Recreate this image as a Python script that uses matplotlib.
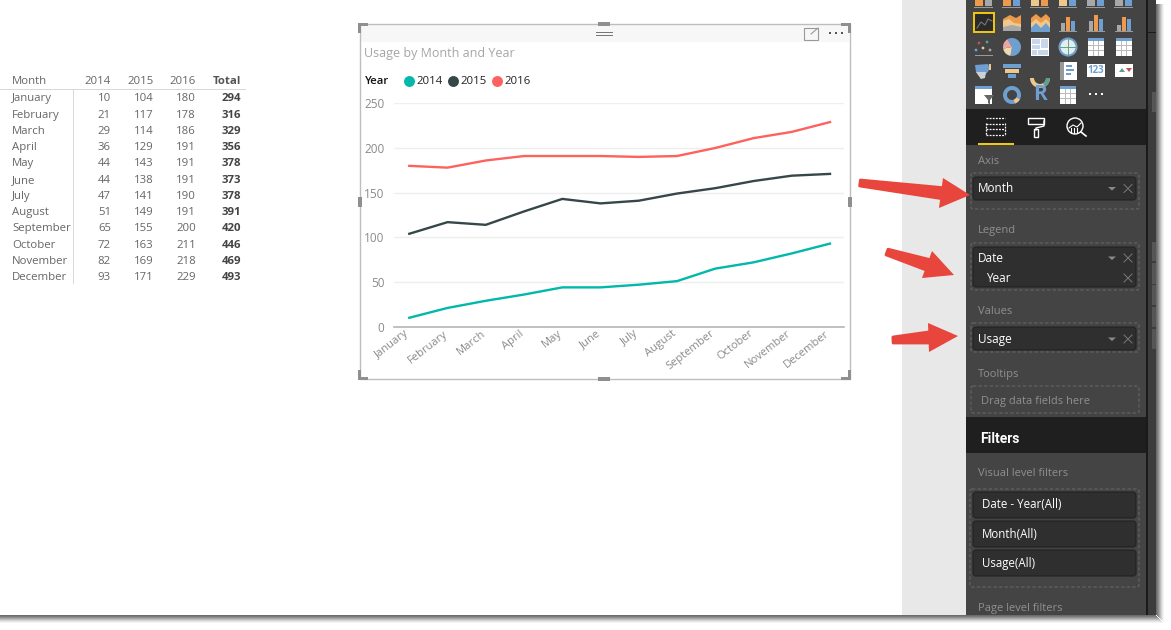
import matplotlib
matplotlib.use("Agg")
import matplotlib.pyplot as plt
from matplotlib.patches import Rectangle, FancyBboxPatch, Polygon, Circle, Wedge
from matplotlib.transforms import ScaledTranslation

plt.rcParams['font.family'] = ['Open Sans', 'DejaVu Sans']

# Data from the table / chart
months = ['January', 'February', 'March', 'April', 'May', 'June', 'July',
          'August', 'September', 'October', 'November', 'December']
years = ['2014', '2015', '2016']
usage_2014 = [10, 21, 29, 36, 44, 44, 47, 51, 65, 72, 82, 93]
usage_2015 = [104, 117, 114, 129, 143, 138, 141, 149, 155, 163, 169, 171]
usage_2016 = [180, 178, 186, 191, 191, 191, 190, 191, 200, 211, 218, 229]
totals = [294, 316, 329, 356, 378, 373, 378, 391, 420, 446, 469, 493]
colors = ['#01B8AA', '#374649', '#FD625E']
y_ticks = [0, 50, 100, 150, 200, 250]

W, H = 1171, 630
fig = plt.figure(figsize=(W / 100, H / 100), dpi=100)
fig.patch.set_facecolor('white')

# background axes in pixel coordinates, used for the screenshot chrome
bg = fig.add_axes([0, 0, 1, 1])
bg.set_xlim(0, W)
bg.set_ylim(H, 0)
bg.axis('off')


def box(x0, y0, x1, y1, color, z=1, **kw):
    bg.add_patch(Rectangle((x0, y0), x1 - x0, y1 - y0, facecolor=color, edgecolor='none', zorder=z, **kw))


def pill(x0, y0, x1, y1, face='#2f2f2f', edge='#222222', z=3):
    bg.add_patch(FancyBboxPatch((x0 + 3, y0 + 3), x1 - x0 - 6, y1 - y0 - 6, boxstyle='round,pad=3,rounding_size=3',
                                facecolor=face, edgecolor=edge, lw=0.8, zorder=z))


def well(x0, y0, x1, y1):
    bg.add_patch(FancyBboxPatch((x0 + 2, y0 + 2), x1 - x0 - 4, y1 - y0 - 4, boxstyle='round,pad=2,rounding_size=2',
                                facecolor='none', edgecolor='#666666', lw=0.8, ls=(0, (3, 2)), zorder=2))


def txt(x, y, s, color='#666666', size=8, ha='left', **kw):
    # the +1.5 puts the x-height in the middle of the row
    bg.text(x, y + 1.5, s, color=color, fontsize=size, ha=ha, va='center', zorder=5, **kw)


# soft window shadow, bottom and right
shadow = ['#f4f4f4', '#e6e6e6', '#d4d4d4', '#bebebe', '#a6a6a6', '#909090', '#7c7c7c', '#6c6c6c']
for i, c in enumerate(shadow):
    box(0, 622 - i, 1163 - i, 623 - i, c, z=0.5)
    box(1163 - i, 4, 1164 - i, 622 - i, c, z=0.5)
box(902, 0, 966, 615, '#e8e8e8')

# right hand panel
box(966, 0, 1146, 615, '#444444')
box(1146, 0, 1147.5, 615, '#1a1a1a')
box(1147.5, 0, 1156, 615, '#3c3c3c')
box(1147.5, 32, 1156, 33, '#1a1a1a')
box(966, 109, 1146, 145, '#1f1f1f')
box(978, 143, 1014, 145, '#F2C80F', z=2)
box(966, 417, 1146, 453, '#1f1f1f')
for y0, y1 in [(92, 112), (242, 261), (263, 284), (285, 305), (307, 327), (329, 349)]:
    box(1152, y0, 1156, y1, '#565656', z=1.5)

# field wells
label_c = '#8f8f8f'
txt(978, 159.5, 'Axis', label_c, 8)
well(971, 173, 1139, 209)
pill(973, 177, 1136, 200)
txt(978, 187.5, 'Month', 'white', 8.5)
txt(978, 228.5, 'Legend', label_c, 8)
well(971, 243, 1139, 290)
pill(973, 247, 1136, 287)
txt(978, 257, 'Date', 'white', 8.5)
txt(986, 277, 'Year', 'white', 8.5)
txt(978, 309.5, 'Values', label_c, 8)
well(971, 323, 1139, 352)
pill(973, 327, 1136, 350)
txt(978, 338, 'Usage', 'white', 8.5)
txt(978, 372.5, 'Tooltips', label_c, 8)
well(971, 386, 1139, 413)
txt(981, 400, 'Drag data fields here', label_c, 8)
for yy in [188.5, 258, 339]:
    bg.add_patch(Polygon([(1108, yy - 1.5), (1116, yy - 1.5), (1112, yy + 2)], facecolor='#8a8a8a', zorder=5))
for yy in [188.5, 258, 278, 339]:
    bg.plot([1124, 1132], [yy - 4, yy + 4], color='#7a7a7a', lw=0.7, zorder=5)
    bg.plot([1124, 1132], [yy + 4, yy - 4], color='#7a7a7a', lw=0.7, zorder=5)

txt(980, 437.5, 'Filters', 'white', 10, fontweight='bold', family=['Roboto', 'DejaVu Sans'])
txt(978, 472, 'Visual level filters', label_c, 8)
well(970, 489, 1139, 587)
for y0, label in zip([492, 521, 550], ['Date - Year(All)', 'Month(All)', 'Usage(All)']):
    pill(973, y0, 1136, y0 + 26)
    txt(982, y0 + 11.5, label, 'white', 8.3)
txt(978, 607, 'Page level filters', label_c, 8)

# tab icons
for yy in [118, 123.5, 129]:
    bg.plot([986, 1005], [yy, yy], color='white', lw=0.9, ls=(0, (1.5, 1)), zorder=5)
for xx in [986, 1005]:
    bg.plot([xx, xx], [123, 135], color='white', lw=0.9, ls=(0, (1.5, 1)), zorder=5)
bg.plot([986, 1005], [135, 135], color='white', lw=0.9, ls=(0, (1.5, 1)), zorder=5)
bg.add_patch(Rectangle((1028, 118), 16, 6, facecolor='none', edgecolor='white', lw=1, zorder=5))
bg.plot([1044, 1044, 1036, 1036], [121, 126, 128, 130], color='white', lw=1, zorder=5)
bg.add_patch(Rectangle((1033.5, 129), 4.5, 8, facecolor='none', edgecolor='white', lw=1, zorder=5))
bg.add_patch(Circle((1075, 126), 8, facecolor='none', edgecolor='white', lw=1, zorder=5))
bg.plot([1081, 1086], [132, 136], color='white', lw=1.2, zorder=5)
bg.plot([1069, 1073, 1077, 1081], [128, 125, 127, 123], color='white', lw=0.8, zorder=5)
for xx in [1071, 1074, 1077]:
    bg.plot([xx, xx], [128, 133], color='white', lw=0.8, zorder=5)

# visual gallery, simplified shapes
col_x = [984, 1012, 1040, 1068, 1096, 1124]
blue, orange, tan, grey, teal = '#6f9fd0', '#ee9a4d', '#efc98c', '#a8a8a8', '#5f9f8f'
for cx, c1, c2 in zip(col_x, [orange, orange, tan, tan, grey, grey], [grey, blue, orange, blue, blue, blue]):
    box(cx - 9, 0, cx - 1, 6, c1, z=2)
    box(cx + 1, 0, cx + 8, 6, c2, z=2)
    box(cx - 10, 6.5, cx + 9, 7.5, '#9a9a9a', z=2)
bg.add_patch(Rectangle((974, 13), 20, 19, facecolor='#2a2a2a', edgecolor='#F2C80F', lw=1.4, zorder=3))
bg.plot([977, 981, 985, 988, 992], [28, 22, 25, 19, 21], color='#777777', lw=0.8, zorder=4)
# area charts
bg.add_patch(Polygon([(1003, 31), (1003, 19), (1010, 15), (1016, 18), (1021, 15), (1021, 31)], facecolor=orange, zorder=3))
bg.add_patch(Polygon([(1003, 31), (1003, 21), (1009, 19), (1014, 23), (1021, 24), (1021, 31)], facecolor=tan, zorder=3.5))
bg.add_patch(Polygon([(1003, 31), (1003, 27), (1012, 25), (1021, 27), (1021, 31)], facecolor=grey, zorder=4))
bg.add_patch(Polygon([(1031, 18), (1036, 14), (1041, 18), (1046, 14), (1050, 18), (1050, 32), (1031, 32)], facecolor=orange, zorder=3))
bg.add_patch(Polygon([(1031, 23), (1036, 19), (1041, 23), (1046, 19), (1050, 23), (1050, 32), (1031, 32)], facecolor=tan, zorder=3.5))
bg.add_patch(Polygon([(1031, 28), (1036, 23), (1041, 28), (1046, 23), (1050, 28), (1050, 32), (1031, 32)], facecolor=blue, zorder=4))
# combo charts
for cx, hs in zip(col_x[3:6], [[8, 14, 10], [10, 16, 12], [6, 14, 12]]):
    for j, h in enumerate(hs):
        box(cx - 7 + j * 5, 31 - h, cx - 3 + j * 5, 31, [grey, orange, blue][j], z=3)
    box(cx - 9, 31, cx + 9, 32, '#999999', z=3)
# second row
for px, py, pc in [(979, 43, '#c05050'), (987, 42, teal), (983, 48, tan), (990, 50, grey), (976, 50, blue)]:
    bg.add_patch(Circle((px, py), 1.4, facecolor=pc, zorder=3))
box(975, 55, 993, 56, '#999999', z=3)
bg.add_patch(Wedge((1012, 47), 9, -120, 100, facecolor=blue, zorder=3))
bg.add_patch(Wedge((1012, 47), 9, 100, 170, facecolor='#f0d8b0', zorder=3))
bg.add_patch(Wedge((1012, 47), 9, 170, 240, facecolor='#e8a8a0', zorder=3))
box(1031, 38, 1049, 56, 'white', z=3)
for rx, ry, rw, rh in [(1032, 39, 8, 5), (1041, 39, 7, 9), (1032, 45, 8, 4), (1032, 50, 5, 5), (1038, 50, 10, 5)]:
    box(rx, ry, rx + rw, ry + rh, '#c8d8ea', z=4)
bg.add_patch(Circle((1068, 47), 8.5, facecolor='#e4efec', edgecolor=blue, lw=1.5, zorder=3))
bg.plot([1060, 1076], [47, 47], color=teal, lw=0.7, zorder=4)
bg.plot([1068, 1068], [39, 55], color=teal, lw=0.7, zorder=4)
for cx, cy in [(1096, 47), (1124, 47), (1068, 95)]:
    box(cx - 8, cy - 9, cx + 8, cy + 9, 'white', z=3)
    box(cx - 8, cy - 9, cx + 8, cy - 6, blue, z=4)
    for a in [-2.7, 2.7]:
        box(cx + a - 0.4, cy - 6, cx + a + 0.4, cy + 9, '#bbbbbb', z=4)
    for b in [-1.5, 3.5]:
        box(cx - 8, cy + b - 0.4, cx + 8, cy + b + 0.4, '#bbbbbb', z=4)
# third row
bg.add_patch(Polygon([(975, 65), (988, 64), (990, 69), (986, 74), (981, 79), (976, 72)], facecolor=blue, zorder=3))
bg.add_patch(Polygon([(976, 72), (986, 72), (985, 78), (981, 79)], facecolor='#d0d0d0', zorder=3.5))
box(989, 64, 991, 70, tan, z=4)
for wx, wy, c in [(1003, 64, blue), (1005, 69, tan), (1008, 74, blue)]:
    box(wx, wy, 2 * 1012 - wx, wy + 4, c, z=3)
bg.add_patch(Wedge((1040, 78), 10, 0, 180, width=4, facecolor=tan, zorder=3))
bg.add_patch(Wedge((1040, 78), 10, 0, 60, width=4, facecolor=teal, zorder=3))
box(1060, 62, 1077, 80, 'white', z=3)
box(1060, 62, 1064, 80, '#999999', z=4)
for oy, ow in [(65, 6), (69, 8), (73, 5)]:
    box(1066, oy, 1066 + ow, oy + 2, blue, z=4)
box(1087, 64, 1105, 77, 'white', z=3)
bg.text(1096, 70.5, '123', color=blue, fontsize=7, ha='center', va='center', fontweight='bold', zorder=4)
box(1115, 64, 1133, 77, 'white', z=3)
bg.add_patch(Polygon([(1119, 72), (1122, 68), (1125, 72)], facecolor=teal, zorder=4))
bg.add_patch(Polygon([(1126, 68), (1132, 68), (1129, 72)], facecolor='#c05050', zorder=4))
# fourth row
box(975, 86, 992, 104, 'white', z=3)
box(975, 86, 992, 89, blue, z=4)
bg.add_patch(Polygon([(984, 95), (994, 95), (990, 100), (990, 105), (988, 103), (988, 100)], facecolor='#666666', zorder=5))
bg.add_patch(Wedge((1012, 95), 9, 0, 360, width=4, facecolor=blue, zorder=3))
bg.add_patch(Wedge((1012, 95), 9, 30, 70, width=4, facecolor=tan, zorder=4))
bg.text(1040, 95, 'R', color='#6f9fd0', fontsize=15, ha='center', va='center', fontweight='bold', zorder=4)
for dx in [1090, 1096, 1102]:
    box(dx - 1, 93, dx + 1, 95, 'white', z=4)

# arrows, the tail gets wider towards the head
arrow_red = '#E8453C'
for tail, tip, c1, c2 in [((860, 183), (970, 195), (943, 178), (939, 208)),
                          ((887, 252), (954, 275), (932, 251), (922, 278)),
                          ((893, 340), (958, 336), (928, 323), (929, 352))]:
    mx, my = (c1[0] + c2[0]) / 2, (c1[1] + c2[1]) / 2
    ux, uy = (c2[0] - c1[0]), (c2[1] - c1[1])
    n = (ux ** 2 + uy ** 2) ** 0.5
    ux, uy = ux / n, uy / n
    tail_poly = [(tail[0] - ux * 3, tail[1] - uy * 3), (mx - ux * 5.5, my - uy * 5.5),
                 (mx + ux * 5.5, my + uy * 5.5), (tail[0] + ux * 3, tail[1] + uy * 3)]
    bg.add_patch(Polygon(tail_poly, facecolor=arrow_red, edgecolor=arrow_red, lw=2, joinstyle='round', zorder=6))
    bg.add_patch(Polygon([c1, tip, c2], facecolor=arrow_red, edgecolor='none', zorder=6))

# table on the left
tc = '#666666'
txt(12, 79.5, 'Month', tc, 8.2)
for xr, label in zip([111, 154, 196], years):
    txt(xr, 79.5, label, tc, 8.2, ha='right')
txt(241, 79.5, 'Total', '#555555', 8.2, ha='right', fontweight='bold')
box(0, 88.5, 246, 89.5, '#d8d8d8', z=2)
box(73, 89, 74, 284, '#d8d8d8', z=2)
row_h = (276.7 - 97.7) / 11
for i, m in enumerate(months):
    yy = 97.3 + i * row_h
    txt(12, yy, m, tc, 8.2)
    for xr, v in zip([111, 154, 196], [usage_2014[i], usage_2015[i], usage_2016[i]]):
        txt(xr, yy, str(v), tc, 8.2, ha='right')
    txt(241, yy, str(totals[i]), '#444444', 8.2, ha='right', fontweight='bold')

# visual frame
box(360, 24, 849, 42, '#f7f7f7', z=2)
bg.add_patch(Rectangle((359.5, 23.5), 490, 355.5, facecolor='none', edgecolor='#bdbdbd', lw=1, zorder=3))
hc = '#8f8f8f'
for cx, cy, sx, sy in [(358, 23, 1, 1), (851, 23, -1, 1), (358, 380, 1, -1), (851, 380, -1, -1)]:
    box(min(cx, cx + sx * 10), min(cy, cy + sy * 3), max(cx, cx + sx * 10), max(cy, cy + sy * 3), hc, z=4)
    box(min(cx, cx + sx * 3), min(cy, cy + sy * 10), max(cx, cx + sx * 3), max(cy, cy + sy * 10), hc, z=4)
box(598, 22, 610, 26, hc, z=4)
box(598, 377, 610, 381, hc, z=4)
box(358, 197, 362, 207, hc, z=4)
box(848, 197, 852, 207, hc, z=4)
for yy in [32, 35]:
    box(596, yy, 613, yy + 0.8, '#777777', z=4)
bg.add_patch(Rectangle((804, 27.5), 14, 12, facecolor='none', edgecolor='#999999', lw=0.8, zorder=4))
bg.plot([811, 818], [34, 28], color='#999999', lw=0.8, zorder=5)
for dx in [829.5, 835.5, 841.5]:
    box(dx - 1, 32, dx + 1, 34, '#555555', z=4)

txt(364, 51.5, 'Usage by Month and Year', '#a6a6a6', 9)
txt(365, 80.5, 'Year', '#111111', 8.2, fontweight='semibold')
for lx, label, c in zip([409, 453, 497], years, colors):
    bg.scatter([lx], [81], s=62, color=c, linewidths=0, zorder=5)
    txt(lx + 7, 80.5, label, '#222222', 8.2)

# the actual line chart, axes placed by pixels
left, right, top, bottom = 394, 844, 103.3, 326.7
ax = fig.add_axes([left / W, 1 - bottom / H, (right - left) / W, (bottom - top) / H])
ax.patch.set_alpha(0)
x = list(range(len(months)))
for series, c in zip([usage_2014, usage_2015, usage_2016], colors):
    ax.plot(x, series, color=c, lw=1.7, zorder=3, clip_on=False)
step = (830 - 409.3) / 11
ax.set_xlim(-(409.3 - left) / step, 11 + (right - 830) / step)
ax.set_ylim(0, 250)
ax.set_yticks(y_ticks)
ax.set_xticks(x)
ax.set_xticklabels(months, rotation=38, ha='right', rotation_mode='anchor', fontsize=8, color='#8a8a8a')
ax.tick_params(axis='y', length=0, pad=7, labelsize=8.5, labelcolor='#8a8a8a')
ax.tick_params(axis='x', length=0, pad=1)
# tick_params resets the label transforms, so the shift has to come after it
shift = ScaledTranslation(-5 / 100, 0, fig.dpi_scale_trans)
for lab in ax.get_xticklabels():
    lab.set_transform(lab.get_transform() + shift)
ax.grid(axis='y', color='#eeeeee', lw=1)
ax.set_axisbelow(True)
for side in ['top', 'right', 'left']:
    ax.spines[side].set_visible(False)
ax.spines['bottom'].set_color('#b5b5b5')
ax.spines['bottom'].set_linewidth(1.2)

fig.savefig('out.png', dpi=100)
